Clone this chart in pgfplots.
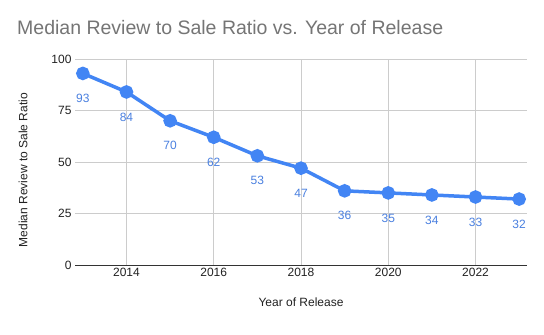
\documentclass[border=0pt]{standalone}
\usepackage{pgfplots}
\pgfplotsset{compat=1.18}
\usepackage{fontspec}
\setmainfont{Liberation Sans}
\definecolor{gblue}{HTML}{4285F4}
\definecolor{lblue}{HTML}{4A80E0}
\definecolor{titlegray}{HTML}{757575}
\definecolor{tickgray}{HTML}{222222}
\definecolor{gridgray}{HTML}{CCCCCC}
\begin{document}
\begin{tikzpicture}
\path[use as bounding box, fill=white] (0,0) rectangle (544bp,335bp);
\node[anchor=base west, inner sep=0, text=titlegray, font=\fontsize{19.5bp}{22bp}\selectfont] at (17bp,300bp) {Median Review to Sale Ratio vs. Year of Release};
\begin{axis}[
  at={(75bp,70bp)}, anchor=south west,
  scale only axis, width=452bp, height=206bp,
  xmin=2012.82, xmax=2023.18, ymin=0, ymax=100,
  xtick={2014,2016,2018,2020,2022},
  ytick={0,25,50,75,100},
  /pgf/number format/assume math mode=true,
  xticklabel style={/pgf/number format/1000 sep={}, text=tickgray, font=\fontsize{12bp}{14bp}\selectfont},
  yticklabel style={text=tickgray, font=\fontsize{12bp}{14bp}\selectfont},
  grid=major,
  major grid style={gridgray, line width=0.8bp},
  axis x line*=bottom, axis y line*=left,
  x axis line style={draw=black!80, line width=1bp, -},
  y axis line style={draw=none},
  tick style={draw=none},
  xlabel={Year of Release},
  ylabel={Median Review to Sale Ratio},
  xlabel style={font=\fontsize{12bp}{14bp}\selectfont, text=tickgray, at={(0.5,-0.18)}, anchor=center},
  ylabel style={font=\fontsize{12bp}{14bp}\selectfont, text=tickgray, at={(-0.115,0.46)}, anchor=center},
  clip=false,
  nodes near coords,
  nodes near coords style={anchor=north, yshift=-19bp, inner sep=0, text=lblue, font=\fontsize{12bp}{14bp}\selectfont},
]
\addplot[gblue, line width=3.5bp, mark=*, mark size=5bp, mark options={fill=gblue, draw=none}] coordinates {
(2013,93) (2014,84) (2015,70) (2016,62) (2017,53) (2018,47) (2019,36) (2020,35) (2021,34) (2022,33) (2023,32)
};
\end{axis}
\end{tikzpicture}
\end{document}
